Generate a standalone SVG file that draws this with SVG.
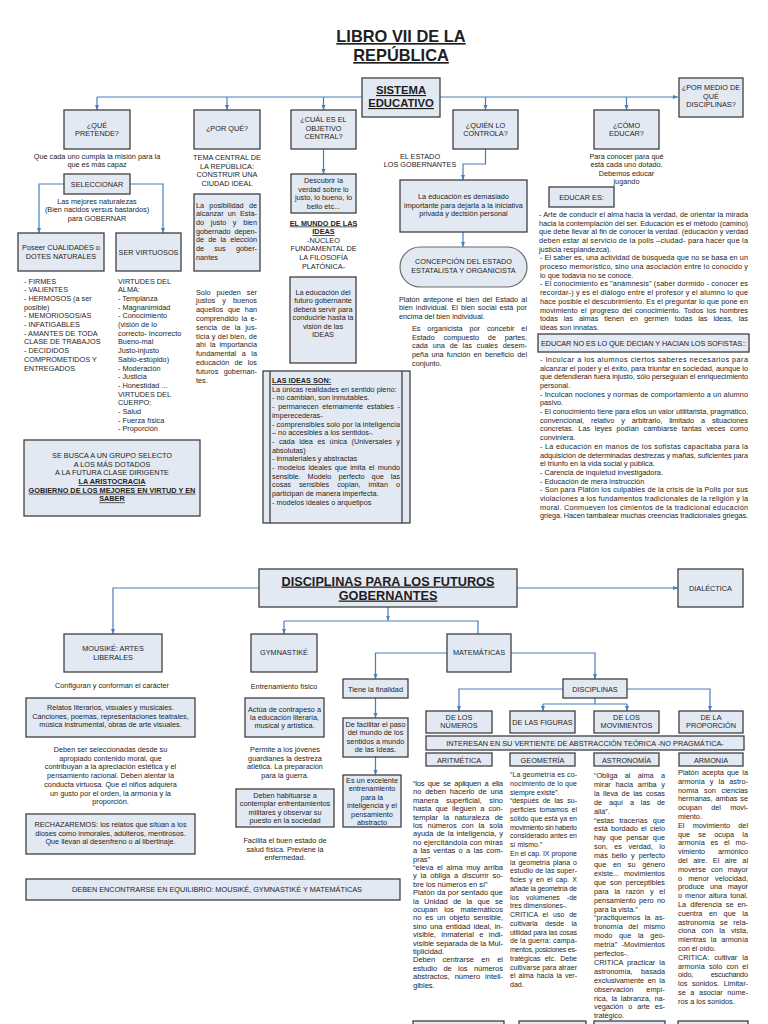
<svg xmlns="http://www.w3.org/2000/svg" width="768" height="1024" viewBox="0 0 768 1024">
<style>
.t{font-family:"Liberation Sans",Arial,Helvetica,sans-serif;font-size:7.3px;fill:#1e1e1e}
.m{text-anchor:middle}
.b{font-weight:bold}
.u{text-decoration:underline}
.bx{fill:#e3e9f3;stroke:#3f3f3f;stroke-width:1.3}
.cn{fill:none;stroke:#4a7ebb;stroke-width:1.2}
.s7{font-size:7px}
.s75{font-size:7.5px}
</style>
<defs>
<marker id="ah" viewBox="0 0 10 10" refX="10" refY="5" markerWidth="5" markerHeight="5" orient="auto" markerUnits="userSpaceOnUse"><path d="M0,1 L10,5 L0,9 z" fill="#4a7ebb"/></marker>
</defs>
<rect width="768" height="1024" fill="#ffffff"/>

<g id="connectors">
<path class="cn" d="M97,97 H678" marker-end="url(#ah)"/>
<path class="cn" d="M97,97 V110" marker-end="url(#ah)"/>
<path class="cn" d="M227,97 V110" marker-end="url(#ah)"/>
<path class="cn" d="M323.5,97 V110" marker-end="url(#ah)"/>
<path class="cn" d="M485.5,97 V110" marker-end="url(#ah)"/>
<path class="cn" d="M626.5,97 V110" marker-end="url(#ah)"/>
<path class="cn" d="M64,184 H39 V233" marker-end="url(#ah)"/>
<path class="cn" d="M130,184 H163 V233" marker-end="url(#ah)"/>
<path class="cn" d="M323.5,149 V174" marker-end="url(#ah)"/>
<path class="cn" d="M485.5,149 V164 H463 V180" marker-end="url(#ah)"/>
<path class="cn" d="M463,232 V247" marker-end="url(#ah)"/>
<path class="cn" d="M517,588 H678" marker-end="url(#ah)"/>
<path class="cn" d="M259,588 H113 V634" marker-end="url(#ah)"/>
<path class="cn" d="M388,607 V620.5" marker-end="url(#ah)"/>
<path class="cn" d="M284,621 H478 V634"/>
<path class="cn" d="M284,621 V634" marker-end="url(#ah)"/>
<path class="cn" d="M447,653 H375.5 V679" marker-end="url(#ah)"/>
<path class="cn" d="M375.5,698 V718" marker-end="url(#ah)"/>
<path class="cn" d="M375.5,757 V775" marker-end="url(#ah)"/>
<path class="cn" d="M511,653 H595 V679" marker-end="url(#ah)"/>
<path class="cn" d="M563,689 H459 V711" marker-end="url(#ah)"/>
<path class="cn" d="M627,689 H710 V711" marker-end="url(#ah)"/>
<path class="cn" d="M595,698 V704 M543,704 H627"/>
<path class="cn" d="M543,704 V711" marker-end="url(#ah)"/>
<path class="cn" d="M627,704 V711" marker-end="url(#ah)"/>
</g>

<g id="title">
<text class="t b u m" style="font-size:16.4px" x="401" y="42">LIBRO VII DE LA</text>
<text class="t b u m" style="font-size:16.4px" x="401" y="61">REPÚBLICA</text>
</g>

<g id="n-sistema">
<rect class="bx" x="362" y="78" width="78" height="39"/>
<text class="t b u m" style="font-size:11.3px" x="401" y="94">SISTEMA</text>
<text class="t b u m" style="font-size:11.3px" x="401" y="107">EDUCATIVO</text>
</g>

<g id="n-que-pretende">
<rect class="bx" x="64" y="110" width="66" height="39"/>
<text class="t m" x="97" y="127.5">¿QUÉ</text>
<text class="t m" x="97" y="136">PRETENDE?</text>
</g>
<g id="n-por-que">
<rect class="bx" x="194" y="110" width="66" height="39"/>
<text class="t m" x="227" y="131">¿POR QUÉ?</text>
</g>
<g id="n-cual-objetivo">
<rect class="bx" x="291" y="110" width="65" height="39"/>
<text class="t m" x="323.5" y="122">¿CUÁL ES EL</text>
<text class="t m" x="323.5" y="130.5">OBJETIVO</text>
<text class="t m" x="323.5" y="139">CENTRAL?</text>
</g>
<g id="n-quien-controla">
<rect class="bx" x="453" y="110" width="65" height="39"/>
<text class="t m" x="485.5" y="127.5">¿QUIÉN LO</text>
<text class="t m" x="485.5" y="136">CONTROLA?</text>
</g>
<g id="n-como-educar">
<rect class="bx" x="594" y="110" width="65" height="39"/>
<text class="t m" x="626.5" y="127.5">¿CÓMO</text>
<text class="t m" x="626.5" y="136">EDUCAR?</text>
</g>
<g id="n-por-medio">
<rect class="bx" x="679" y="78" width="64" height="39"/>
<text class="t m" x="711" y="90">¿POR MEDIO DE</text>
<text class="t m" x="711" y="98.5">QUÉ</text>
<text class="t m" x="711" y="107">DISCIPLINAS?</text>
</g>

<g id="txt-mision">
<text class="t m" x="97" y="158.5">Que cada uno cumpla la misión para la</text>
<text class="t m" x="97" y="167">que es más capaz</text>
</g>
<g id="n-seleccionar">
<rect class="bx" x="64" y="174" width="66" height="20"/>
<text class="t m" x="97" y="187">SELECCIONAR</text>
</g>
<g id="txt-naturalezas">
<text class="t m" x="97" y="203.5">Las mejores naturalezas</text>
<text class="t m" x="97" y="212">(Bien nacidos versus bastardos)</text>
<text class="t m" x="97" y="220.5">para GOBERNAR</text>
</g>
<g id="n-cualidades">
<rect class="bx" x="18" y="233" width="86" height="38"/>
<text class="t m" x="61" y="250">Poseer CUALIDADES o</text>
<text class="t m" x="61" y="259">DOTES NATURALES</text>
</g>
<g id="n-virtuosos">
<rect class="bx" x="116" y="233" width="65" height="38"/>
<text class="t m" x="148.5" y="254.5">SER VIRTUOSOS</text>
</g>
<g id="txt-cualidades">
<text class="t" x="24" y="283.5">- FIRMES</text>
<text class="t" x="24" y="292.2">- VALIENTES</text>
<text class="t" x="24" y="300.9">- HERMOSOS (a ser</text>
<text class="t" x="24" y="309.6">posible)</text>
<text class="t" x="24" y="318.3">- MEMORIOSOS/AS</text>
<text class="t" x="24" y="327">- INFATIGABLES</text>
<text class="t" x="24" y="335.7">- AMANTES DE TODA</text>
<text class="t" x="24" y="344.4">CLASE DE TRABAJOS</text>
<text class="t" x="24" y="353.1">- DECIDIDOS</text>
<text class="t" x="24" y="361.8">COMPROMETIDOS Y</text>
<text class="t" x="24" y="370.5">ENTREGADOS</text>
</g>
<g id="txt-virtudes">
<text class="t" x="118" y="283.5">VIRTUDES DEL</text>
<text class="t" x="118" y="292.2">ALMA:</text>
<text class="t" x="118" y="300.9">- Templanza</text>
<text class="t" x="118" y="309.6">- Magnanimidad</text>
<text class="t" x="118" y="318.3">- Conocimiento</text>
<text class="t" x="118" y="327">(visión de lo</text>
<text class="t" x="118" y="335.7">correcto- Incorrecto</text>
<text class="t" x="118" y="344.4">Bueno-mal</text>
<text class="t" x="118" y="353.1">Justo-injusto</text>
<text class="t" x="118" y="361.8">Sabio-estúpido)</text>
<text class="t" x="118" y="370.5">- Moderación</text>
<text class="t" x="118" y="379.2">- Justicia</text>
<text class="t" x="118" y="387.9">- Honestidad ...</text>
<text class="t" x="118" y="396.6">VIRTUDES DEL</text>
<text class="t" x="118" y="405.3">CUERPO:</text>
<text class="t" x="118" y="414">- Salud</text>
<text class="t" x="118" y="422.7">- Fuerza física</text>
<text class="t" x="118" y="431.4">- Proporción</text>
</g>
<g id="n-se-busca">
<rect class="bx" x="24" y="440" width="176" height="76"/>
<text class="t m" x="112" y="458">SE BUSCA A UN GRUPO SELECTO</text>
<text class="t m" x="112" y="466.7">A LOS MÁS DOTADOS</text>
<text class="t m" x="112" y="475.3">A LA FUTURA CLASE DIRIGENTE</text>
<text class="t m b u" x="112" y="484">LA ARISTOCRACIA</text>
<text class="t m b u" x="112" y="492.7">GOBIERNO DE LOS MEJORES EN VIRTUD Y EN</text>
<text class="t m b u" x="112" y="501.4">SABER</text>
</g>

<g id="txt-tema-central">
<text class="t m" x="227" y="160">TEMA CENTRAL DE</text>
<text class="t m" x="227" y="168.5">LA REPÚBLICA:</text>
<text class="t m" x="227" y="177">CONSTRUIR UNA</text>
<text class="t m" x="227" y="185.5">CIUDAD IDEAL</text>
</g>
<g id="n-posibilidad">
<rect class="bx" x="194" y="194" width="66" height="77"/>
<text class="t" x="196" y="207.5" textLength="61" style="word-spacing:3.3px">La posibilidad de</text>
<text class="t" x="196" y="216.2" textLength="61" style="word-spacing:2.1px">alcanzar un Esta-</text>
<text class="t" x="196" y="224.9" textLength="61" style="word-spacing:4.6px">do justo y bien</text>
<text class="t" x="196" y="233.6" textLength="61" style="word-spacing:1.8px">gobernado depen-</text>
<text class="t" x="196" y="242.3" textLength="61" style="word-spacing:2.1px">de de la elección</text>
<text class="t" x="196" y="251" textLength="61" style="word-spacing:8.2px">de sus gober-</text>
<text class="t" x="196" y="259.7">nantes</text>
</g>
<g id="txt-solo-pueden">
<text class="t" x="196" y="294.5" textLength="61" style="word-spacing:3.9px">Solo pueden ser</text>
<text class="t" x="196" y="303.3" textLength="61" style="word-spacing:5.1px">justos y buenos</text>
<text class="t" x="196" y="312.1" textLength="61" style="word-spacing:2.7px">aquellos que han</text>
<text class="t" x="196" y="320.9" textLength="61" style="word-spacing:1.3px">comprendido la e-</text>
<text class="t" x="196" y="329.7" textLength="61" style="word-spacing:2.8px">sencia de la jus-</text>
<text class="t" x="196" y="338.5" textLength="61">ticia y del bien, de</text>
<text class="t" x="196" y="347.3" textLength="61" style="word-spacing:1.9px">ahí la importancia</text>
<text class="t" x="196" y="356.1" textLength="61" style="word-spacing:3.5px">fundamental a la</text>
<text class="t" x="196" y="364.9" textLength="61" style="word-spacing:3.1px">educación de los</text>
<text class="t" x="196" y="373.7" textLength="61" style="word-spacing:3.4px">futuros gobernan-</text>
<text class="t" x="196" y="382.5">tes.</text>
</g>

<g id="n-descubrir">
<rect class="bx" x="291" y="174" width="65" height="39"/>
<text class="t m" x="323.5" y="183">Descubrir la</text>
<text class="t m" x="323.5" y="191.5">verdad sobre lo</text>
<text class="t m" x="323.5" y="200">justo, lo bueno, lo</text>
<text class="t m" x="323.5" y="208.5">bello etc...</text>
</g>
<g id="txt-mundo-ideas">
<text class="t m b u" x="323.5" y="225.5">EL MUNDO DE LAS</text>
<text class="t m b u" x="323.5" y="234">IDEAS</text>
<text class="t m" x="323.5" y="242.7">-NÚCLEO</text>
<text class="t m" x="323.5" y="251.4">FUNDAMENTAL DE</text>
<text class="t m" x="323.5" y="260">LA FILOSOFÍA</text>
<text class="t m" x="323.5" y="268.8">PLATÓNICA-</text>
</g>
<g id="n-educacion-futuro">
<rect class="bx" x="290" y="277" width="66" height="86"/>
<text class="t m" x="323" y="294.5">La educación del</text>
<text class="t m" x="323" y="303">futuro gobernante</text>
<text class="t m" x="323" y="311.5">deberá servir para</text>
<text class="t m" x="323" y="320">conducirle hasta la</text>
<text class="t m" x="323" y="328.5">visión de las</text>
<text class="t m" x="323" y="337">IDEAS</text>
</g>
<g id="n-ideas-son">
<rect class="bx" x="263" y="371" width="147" height="152"/>
<path d="M270,371 V523 M402,371 V523" fill="none" stroke="#3f3f3f" stroke-width="1.3"/>
<text class="t b u" x="272" y="383">LAS IDEAS SON:</text>
<text class="t" x="272" y="391.7">La únicas realidades en sentido pleno:</text>
<text class="t" x="272" y="400.4">- no cambian, son inmutables.</text>
<text class="t" x="272" y="409.1" textLength="128" style="word-spacing:1.8px">- permanecen eternamente estables -</text>
<text class="t" x="272" y="417.8">imperecederas-</text>
<text class="t" x="272" y="426.5" textLength="128">- comprensibles solo por la inteligencia</text>
<text class="t" x="272" y="435.2">– no accesibles a los sentidos-.</text>
<text class="t" x="272" y="443.9" textLength="128" style="word-spacing:2.5px">- cada idea es única (Universales y</text>
<text class="t" x="272" y="452.6">absolutas)</text>
<text class="t" x="272" y="461.3">- inmateriales y abstractas</text>
<text class="t" x="272" y="470" textLength="128" style="word-spacing:1.2px">- modelos ideales que imita el mundo</text>
<text class="t" x="272" y="478.7" textLength="128" style="word-spacing:5px">sensible. Modelo perfecto que las</text>
<text class="t" x="272" y="487.4" textLength="128" style="word-spacing:6px">cosas sensibles copian, imitan o</text>
<text class="t" x="272" y="496.1">participan de manera imperfecta.</text>
<text class="t" x="272" y="504.8">- modelos ideales o arquetipos</text>
</g>

<g id="txt-estado">
<text class="t m" x="420" y="158.5">EL ESTADO</text>
<text class="t m" x="420" y="167">LOS GOBERNANTES</text>
</g>
<g id="n-demasiado">
<rect class="bx" x="400" y="180" width="127" height="52"/>
<text class="t m" x="463.5" y="199">La educación es demasiado</text>
<text class="t m" x="463.5" y="207.5">importante para dejarla a la iniciativa</text>
<text class="t m" x="463.5" y="216">privada y decisión personal</text>
</g>
<g id="n-concepcion">
<rect x="400" y="247" width="127" height="40" rx="20" ry="20" fill="#e3e9f3" stroke="#6a6a6a" stroke-width="1.2"/>
<text class="t m" x="463.5" y="264">CONCEPCIÓN DEL ESTADO</text>
<text class="t m" x="463.5" y="273">ESTATALISTA Y ORGANICISTA</text>
</g>
<g id="txt-platon-antepone">
<text class="t" x="399" y="301.5" textLength="128" style="word-spacing:1.2px">Platón antepone el bien del Estado al</text>
<text class="t" x="399" y="310" textLength="128" style="word-spacing:1px">bien individual. El bien social está por</text>
<text class="t" x="399" y="318.5">encima del bien individual.</text>
<text class="t" x="412" y="331" textLength="115" style="word-spacing:4.8px">Es organicista por concebir el</text>
<text class="t" x="412" y="339.7" textLength="115" style="word-spacing:6.7px">Estado compuesto de partes,</text>
<text class="t" x="412" y="348.4" textLength="115" style="word-spacing:2.8px">cada una de las cuales desem-</text>
<text class="t" x="412" y="357.1" textLength="115" style="word-spacing:1.2px">peña una función en beneficio del</text>
<text class="t" x="412" y="365.8">conjunto.</text>
</g>

<g id="txt-para-conocer">
<text class="t m" x="626.5" y="158.5">Para conocer para qué</text>
<text class="t m" x="626.5" y="167">está cada uno dotado.</text>
<text class="t m" x="626.5" y="175.5">Debemos educar</text>
<text class="t m" x="626.5" y="184">jugando</text>
</g>
<g id="n-educar-es">
<rect class="bx" x="549" y="187" width="65" height="20"/>
<text class="t m" x="581.5" y="200">EDUCAR ES:</text>
</g>
<g id="txt-educar-es">
<text class="t" x="539" y="217" textLength="209">- Arte de conducir el alma hacia la verdad, de orientar la mirada</text>
<text class="t" x="539" y="225.7" textLength="209">hacia la contemplación del ser. Educación es el método (camino)</text>
<text class="t" x="539" y="234.4" textLength="209">que debe llevar al fin de conocer la verdad. (educación y verdad</text>
<text class="t" x="539" y="243" textLength="209">deben estar al servicio de la polis –ciudad- para hacer que la</text>
<text class="t" x="539" y="251.7">justicia resplandezca).</text>
<text class="t" x="540" y="260.4" textLength="208">- El saber es, una actividad de búsqueda que no se basa en un</text>
<text class="t" x="540" y="269.1" textLength="208">proceso memorístico, sino una asociación entre lo conocido y</text>
<text class="t" x="540" y="277.8">lo que todavía no se conoce.</text>
<text class="t" x="540" y="286.4" textLength="208">- El conocimiento es "anámnesis" (saber dormido - conocer es</text>
<text class="t" x="540" y="295.1" textLength="208">recordar-) y es el diálogo entre el profesor y el alumno lo que</text>
<text class="t" x="540" y="303.8" textLength="208">hace posible el descubrimiento. Es el preguntar lo que pone en</text>
<text class="t" x="540" y="312.5" textLength="208" style="word-spacing:1.3px">movimiento el progreso del conocimiento. Todos los hombres</text>
<text class="t" x="540" y="321.2" textLength="208" style="word-spacing:3.9px">todas las almas tienen en germen todas las ideas, las</text>
<text class="t" x="540" y="329.8">ideas son innatas.</text>
</g>
<g id="n-sofistas">
<rect class="bx" x="538" y="334" width="211" height="18" stroke-width="1.6"/>
<text class="t" x="541" y="346" textLength="205">EDUCAR NO ES LO QUE DECIAN Y HACIAN LOS SOFISTAS::</text>
</g>
<g id="txt-sofistas">
<text class="t" x="540" y="362" textLength="208">- Inculcar a los alumnos ciertos saberes necesarios para</text>
<text class="t" x="540" y="370.7" textLength="208">alcanzar el poder y el éxito, para triunfar en sociedad, aunque lo</text>
<text class="t" x="540" y="379.4" textLength="208">que defendieran fuera injusto, sólo perseguían el enriquecimiento</text>
<text class="t" x="540" y="388">personal.</text>
<text class="t" x="540" y="396.7" textLength="208">- Inculcan nociones y normas de comportamiento a un alumno</text>
<text class="t" x="540" y="405.4">pasivo.</text>
<text class="t" x="540" y="414.1" textLength="208">- El conocimiento tiene para ellos un valor utilitarista, pragmático,</text>
<text class="t" x="540" y="422.8" textLength="208" style="word-spacing:5px">convencional, relativo y arbitrario, limitado a situaciones</text>
<text class="t" x="540" y="431.4" textLength="208" style="word-spacing:2.6px">concretas. Las leyes podían cambiarse tantas veces como</text>
<text class="t" x="540" y="440.1">conviniera.</text>
<text class="t" x="540" y="448.8" textLength="208">- La educación en manos de los sofistas capacitaba para la</text>
<text class="t" x="540" y="457.5" textLength="208">adquisición de determinadas destrezas y mañas, suficientes para</text>
<text class="t" x="540" y="466.2">el triunfo en la vida social y pública.</text>
<text class="t" x="540" y="474.8">- Carencia de inquietud investigadora.</text>
<text class="t" x="540" y="483.5">- Educación de mera instrucción</text>
<text class="t" x="540" y="492.2" textLength="208">- Son para Platón los culpables de la crisis de la Polis por sus</text>
<text class="t" x="540" y="500.9" textLength="208">violaciones a los fundamentos tradicionales de la religión y la</text>
<text class="t" x="540" y="509.6" textLength="208">moral. Conmueven los cimientos de la tradicional educación</text>
<text class="t" x="540" y="518.2" textLength="208">griega. Hacen tambalear muchas creencias tradicionales griegas.</text>
</g>

<g id="n-disciplinas-futuros">
<rect class="bx" x="259" y="569" width="258" height="38"/>
<text class="t b u m" style="font-size:12.7px" x="388" y="585.5">DISCIPLINAS PARA LOS FUTUROS</text>
<text class="t b u m" style="font-size:12.7px" x="388" y="599.5">GOBERNANTES</text>
</g>
<g id="n-dialectica">
<rect class="bx" x="678" y="569" width="65" height="38"/>
<text class="t m" x="710.5" y="591">DIALÉCTICA</text>
</g>

<g id="n-mousike">
<rect class="bx" x="64" y="634" width="98" height="38"/>
<text class="t m" x="113" y="651">MOUSIKÉ: ARTES</text>
<text class="t m" x="113" y="660">LIBERALES</text>
</g>
<g id="txt-configuran">
<text class="t m" x="112" y="688">Configuran y conforman el carácter</text>
</g>
<g id="n-relatos">
<rect class="bx" x="26" y="698" width="169" height="39"/>
<text class="t m" x="110.5" y="710">Relatos literarios, visuales y musicales.</text>
<text class="t m" x="110.5" y="718.5">Canciones, poemas, representaciones teatrales,</text>
<text class="t m" x="110.5" y="727">música instrumental, obras de arte visuales.</text>
</g>
<g id="txt-deben-ser">
<text class="t m" x="110.5" y="752">Deben ser seleccionadas desde su</text>
<text class="t m" x="110.5" y="760.7">apropiado contenido moral, que</text>
<text class="t m" x="110.5" y="769.4">contribuyan a la apreciación estética y el</text>
<text class="t m" x="110.5" y="778.1">pensamiento racional. Deben alentar la</text>
<text class="t m" x="110.5" y="786.8">conducta virtuosa. Que el niños adquiera</text>
<text class="t m" x="110.5" y="795.5">un gusto por el orden, la armonía y la</text>
<text class="t m" x="110.5" y="804.2">proporción.</text>
</g>
<g id="n-rechazaremos">
<rect class="bx" x="26" y="814" width="169" height="40"/>
<text class="t m" x="110.5" y="827">RECHAZAREMOS: los relatos que sitúan a los</text>
<text class="t m" x="110.5" y="835.5">dioses como inmorales, adúlteros, mentirosos.</text>
<text class="t m" x="110.5" y="844">Que llevan al desenfreno o al libertinaje.</text>
</g>
<g id="n-equilibrio">
<rect class="bx" x="26" y="879" width="374" height="21"/>
<text class="t m" x="217" y="892" textLength="290" lengthAdjust="spacingAndGlyphs">DEBEN ENCONTRARSE EN EQUILIBRIO: MOUSIKÉ, GYMNASTIKÉ Y MATEMÁTICAS</text>
</g>

<g id="n-gymnastike">
<rect class="bx" x="251" y="634" width="66" height="38"/>
<text class="t m" x="284" y="655">GYMNASTIKÉ</text>
</g>
<g id="txt-entrenamiento">
<text class="t m" x="284" y="689">Entrenamiento físico</text>
</g>
<g id="n-actua">
<rect class="bx" x="245" y="698" width="79" height="39"/>
<text class="t m" x="284.5" y="712">Actúa de contrapeso a</text>
<text class="t m" x="284.5" y="720">la educación literaria,</text>
<text class="t m" x="284.5" y="728">musical y artística.</text>
</g>
<g id="txt-permite">
<text class="t m" x="285" y="752">Permite a los jóvenes</text>
<text class="t m" x="285" y="760.7">guardianes la destreza</text>
<text class="t m" x="285" y="769.4">atlética. La preparación</text>
<text class="t m" x="285" y="778">para la guerra.</text>
</g>
<g id="n-habituarse">
<rect class="bx" x="236" y="789" width="98" height="38"/>
<text class="t m" x="285" y="797.5">Deben habituarse a</text>
<text class="t m" x="285" y="806">contemplar enfrentamientos</text>
<text class="t m" x="285" y="814.5">militares y observar su</text>
<text class="t m" x="285" y="823">puesto en la sociedad</text>
</g>
<g id="txt-facilita">
<text class="t m" x="285" y="843">Facilita el buen estado de</text>
<text class="t m" x="285" y="851.7">salud física. Previene la</text>
<text class="t m" x="285" y="860.4">enfermedad.</text>
</g>

<g id="n-matematicas">
<rect class="bx" x="447" y="634" width="64" height="38"/>
<text class="t m" x="479" y="655">MATEMÁTICAS</text>
</g>
<g id="n-finalidad">
<rect class="bx" x="343" y="679" width="65" height="19"/>
<text class="t m" x="375.5" y="692">Tiene la finalidad</text>
</g>
<g id="n-facilitar">
<rect class="bx" x="343" y="718" width="65" height="39"/>
<text class="t m" x="375.5" y="726.5">De facilitar el paso</text>
<text class="t m" x="375.5" y="735">del mundo de los</text>
<text class="t m" x="375.5" y="743.5">sentidos a mundo</text>
<text class="t m" x="375.5" y="752">de las Ideas.</text>
</g>
<g id="n-excelente">
<rect class="bx" x="343" y="775" width="58" height="52"/>
<text class="t m" x="372" y="782.5">Es un excelente</text>
<text class="t m" x="372" y="791">entrenamiento</text>
<text class="t m" x="372" y="799.5">para la</text>
<text class="t m" x="372" y="808">inteligencia y el</text>
<text class="t m" x="372" y="816.5">pensamiento</text>
<text class="t m" x="372" y="825">abstracto</text>
</g>
<g id="n-disciplinas">
<rect class="bx" x="563" y="679" width="64" height="19"/>
<text class="t m" x="595" y="692">DISCIPLINAS</text>
</g>
<g id="n-numeros">
<rect class="bx" x="426" y="711" width="66" height="22"/>
<text class="t m" x="459" y="719.5">DE LOS</text>
<text class="t m" x="459" y="728">NÚMEROS</text>
</g>
<g id="n-figuras">
<rect class="bx" x="510" y="711" width="65" height="22"/>
<text class="t m" x="542.5" y="725">DE LAS FIGURAS</text>
</g>
<g id="n-movimientos">
<rect class="bx" x="594" y="711" width="65" height="22"/>
<text class="t m" x="626.5" y="719.5">DE LOS</text>
<text class="t m" x="626.5" y="728">MOVIMIENTOS</text>
</g>
<g id="n-proporcion">
<rect class="bx" x="679" y="711" width="64" height="22"/>
<text class="t m" x="711" y="719.5">DE LA</text>
<text class="t m" x="711" y="728">PROPORCIÓN</text>
</g>
<g id="n-interesan">
<rect class="bx" x="426" y="736" width="318" height="14"/>
<text class="t m" x="585" y="746">INTERESAN EN SU VERTIENTE DE ABSTRACCIÓN TEÓRICA -NO PRAGMÁTICA-</text>
</g>
<g id="n-aritmetica">
<rect class="bx" x="426" y="753" width="66" height="13"/>
<text class="t m" x="459" y="762.5">ARITMÉTICA</text>
</g>
<g id="n-geometria">
<rect class="bx" x="510" y="753" width="65" height="13"/>
<text class="t m" x="542.5" y="762.5">GEOMETRÍA</text>
</g>
<g id="n-astronomia">
<rect class="bx" x="594" y="753" width="65" height="13"/>
<text class="t m" x="626.5" y="762.5">ASTRONOMÍA</text>
</g>
<g id="n-armonia">
<rect class="bx" x="679" y="753" width="64" height="13"/>
<text class="t m" x="711" y="762.5">ARMONIA</text>
</g>

<g id="txt-aritmetica">
<text class="t s75" x="413" y="786" textLength="90" style="word-spacing:1.6px">“los que se apliquen a ella</text>
<text class="t s75" x="413" y="794.4" textLength="90" style="word-spacing:1.7px">no deben hacerlo de una</text>
<text class="t s75" x="413" y="802.8" textLength="90" style="word-spacing:5.4px">manera superficial, sino</text>
<text class="t s75" x="413" y="811.2" textLength="90" style="word-spacing:2px">hasta que lleguen a con-</text>
<text class="t s75" x="413" y="819.6" textLength="90" style="word-spacing:3.2px">templar la naturaleza de</text>
<text class="t s75" x="413" y="828" textLength="90" style="word-spacing:2.8px">los números con la sola</text>
<text class="t s75" x="413" y="836.4" textLength="90" style="word-spacing:0.9px">ayuda de la inteligencia, y</text>
<text class="t s75" x="413" y="844.8" textLength="90">no ejercitándola con miras</text>
<text class="t s75" x="413" y="853.2" textLength="90" style="word-spacing:1.2px">a las ventas o a las com-</text>
<text class="t s75" x="413" y="861.6">pras”</text>
<text class="t s75" x="413" y="870" textLength="90" style="word-spacing:1.5px">“eleva el alma muy arriba</text>
<text class="t s75" x="413" y="878.4" textLength="90" style="word-spacing:1.7px">y la obliga a discurrir so-</text>
<text class="t s75" x="413" y="886.8">bre los números en sí”</text>
<text class="t s75" x="413" y="895.2" textLength="90">Platón da por sentado que</text>
<text class="t s75" x="413" y="903.6" textLength="90" style="word-spacing:3.1px">la Unidad de la que se</text>
<text class="t s75" x="413" y="912" textLength="90" style="word-spacing:4.6px">ocupan los matemáticos</text>
<text class="t s75" x="413" y="920.4" textLength="90" style="word-spacing:1.9px">no es un objeto sensible,</text>
<text class="t s75" x="413" y="928.8" textLength="90" style="word-spacing:1.1px">sino una entidad ideal, in-</text>
<text class="t s75" x="413" y="937.2" textLength="90" style="word-spacing:3.3px">visible, inmaterial e indi-</text>
<text class="t s75" x="413" y="945.6" textLength="90">visible separada de la Mul-</text>
<text class="t s75" x="413" y="954">tiplicidad.</text>
<text class="t s75" x="413" y="962.4" textLength="90" style="word-spacing:5.4px">Deben centrarse en el</text>
<text class="t s75" x="413" y="970.8" textLength="90" style="word-spacing:4.2px">estudio de los números</text>
<text class="t s75" x="413" y="979.2" textLength="90" style="word-spacing:2.9px">abstractos, número inteli-</text>
<text class="t s75" x="413" y="987.6">gibles.</text>
</g>
<g id="txt-geometria">
<text class="t s7" x="510" y="777" textLength="67">“La geometría es co-</text>
<text class="t s7" x="510" y="785.75" textLength="67">nocimiento de lo que</text>
<text class="t s7" x="510" y="794.5">siempre existe”.</text>
<text class="t s7" x="510" y="803.25" textLength="67" style="word-spacing:2px">“después de las su-</text>
<text class="t s7" x="510" y="812" textLength="67" style="word-spacing:1.4px">perficies tomamos el</text>
<text class="t s7" x="510" y="820.75" textLength="67">sólido que está ya en</text>
<text class="t s7" x="510" y="829.5" textLength="67">movimiento sin haberlo</text>
<text class="t s7" x="510" y="838.25" textLength="67">considerado antes en</text>
<text class="t s7" x="510" y="847">sí mismo.”</text>
<text class="t s7" x="510" y="855.75" textLength="67">En el cap. IX propone</text>
<text class="t s7" x="510" y="864.5" textLength="67" style="word-spacing:1.1px">la geometría plana o</text>
<text class="t s7" x="510" y="873.25" textLength="67">estudio de las super-</text>
<text class="t s7" x="510" y="882" textLength="67" style="word-spacing:1.3px">ficies y en el cap. X</text>
<text class="t s7" x="510" y="890.75" textLength="67">añade la geometría de</text>
<text class="t s7" x="510" y="899.5" textLength="67" style="word-spacing:5.1px">los volúmenes -de</text>
<text class="t s7" x="510" y="908.25">tres dimensiones-.</text>
<text class="t s7" x="510" y="917" textLength="67" style="word-spacing:2.9px">CRITICA el uso de</text>
<text class="t s7" x="510" y="925.75" textLength="67" style="word-spacing:5.5px">cultivarla desde la</text>
<text class="t s7" x="510" y="934.5" textLength="67">utilidad para las cosas</text>
<text class="t s7" x="510" y="943.25" textLength="67">de la guerra: campa-</text>
<text class="t s7" x="510" y="952" textLength="67">mentos, posiciones es-</text>
<text class="t s7" x="510" y="960.75" textLength="67" style="word-spacing:2.4px">tratégicas etc. Debe</text>
<text class="t s7" x="510" y="969.5" textLength="67">cultivarse para atraer</text>
<text class="t s7" x="510" y="978.25" textLength="67" style="word-spacing:1.1px">el alma hacia la ver-</text>
<text class="t s7" x="510" y="987">dad.</text>
</g>
<g id="txt-astronomia">
<text class="t" x="594" y="778" textLength="71" style="word-spacing:5.3px">“Obliga al alma a</text>
<text class="t" x="594" y="786.9" textLength="71" style="word-spacing:2.8px">mirar hacia arriba y</text>
<text class="t" x="594" y="795.8" textLength="71" style="word-spacing:1.4px">la lleva de las cosas</text>
<text class="t" x="594" y="804.7" textLength="71" style="word-spacing:4.8px">de aquí a las de</text>
<text class="t" x="594" y="813.6">allá”.</text>
<text class="t" x="594" y="822.5" textLength="71" style="word-spacing:3.2px">“estas tracerías que</text>
<text class="t" x="594" y="831.4" textLength="71" style="word-spacing:1.2px">está bordado el cielo</text>
<text class="t" x="594" y="840.3" textLength="71" style="word-spacing:2.2px">hay que pensar que</text>
<text class="t" x="594" y="849.2" textLength="71" style="word-spacing:4.5px">son, es verdad, lo</text>
<text class="t" x="594" y="858.1" textLength="71" style="word-spacing:1.9px">más bello y perfecto</text>
<text class="t" x="594" y="867" textLength="71" style="word-spacing:4.7px">que en su género</text>
<text class="t" x="594" y="875.9" textLength="71" style="word-spacing:2.8px">existe... movimientos</text>
<text class="t" x="594" y="884.8" textLength="71" style="word-spacing:1.8px">que son perceptibles</text>
<text class="t" x="594" y="893.7" textLength="71" style="word-spacing:3.7px">para la razón y el</text>
<text class="t" x="594" y="902.6" textLength="71" style="word-spacing:1.2px">pensamiento pero no</text>
<text class="t" x="594" y="911.5">para la vista.”</text>
<text class="t" x="594" y="920.4" textLength="71" style="word-spacing:2.4px">“practiquemos la as-</text>
<text class="t" x="594" y="929.3" textLength="71" style="word-spacing:3.5px">tronomía del mismo</text>
<text class="t" x="594" y="938.2" textLength="71" style="word-spacing:4.7px">modo que la geo-</text>
<text class="t" x="594" y="947.1" textLength="71" style="word-spacing:2.5px">metría” -Movimientos</text>
<text class="t" x="594" y="956">perfectos-.</text>
<text class="t" x="594" y="964.9" textLength="71" style="word-spacing:2px">CRITICA practicar la</text>
<text class="t" x="594" y="973.8" textLength="71" style="word-spacing:6.5px">astronomía, basada</text>
<text class="t" x="594" y="982.7" textLength="71" style="word-spacing:1.6px">exclusivamente en la</text>
<text class="t" x="594" y="991.6" textLength="71" style="word-spacing:11px">observación empí-</text>
<text class="t" x="594" y="1000.5" textLength="71" style="word-spacing:1.6px">rica, la labranza, na-</text>
<text class="t" x="594" y="1009.4" textLength="71" style="word-spacing:3px">vegación o arte es-</text>
<text class="t" x="594" y="1018.3">tratégico.</text>
</g>
<g id="txt-armonia">
<text class="t" x="678" y="775" textLength="70" style="word-spacing:1.1px">Platón acepta que la</text>
<text class="t" x="678" y="783.8" textLength="70" style="word-spacing:3px">armonía y la astro-</text>
<text class="t" x="678" y="792.6" textLength="70" style="word-spacing:3.7px">nomía son ciencias</text>
<text class="t" x="678" y="801.4" textLength="70" style="word-spacing:0.9px">hermanas, ambas se</text>
<text class="t" x="678" y="810.2" textLength="70" style="word-spacing:7.2px">ocupan del movi-</text>
<text class="t" x="678" y="819">miento.</text>
<text class="t" x="678" y="827.8" textLength="70" style="word-spacing:6.2px">El movimiento del</text>
<text class="t" x="678" y="836.6" textLength="70" style="word-spacing:6.2px">que se ocupa la</text>
<text class="t" x="678" y="845.4" textLength="70" style="word-spacing:3.7px">armonía es el mo-</text>
<text class="t" x="678" y="854.2" textLength="70" style="word-spacing:10.8px">vimiento armónico</text>
<text class="t" x="678" y="863" textLength="70" style="word-spacing:3.4px">del aire. El aire al</text>
<text class="t" x="678" y="871.8" textLength="70" style="word-spacing:3px">moverse con mayor</text>
<text class="t" x="678" y="880.6" textLength="70" style="word-spacing:4.1px">o menor velocidad,</text>
<text class="t" x="678" y="889.4" textLength="70" style="word-spacing:3.5px">produce una mayor</text>
<text class="t" x="678" y="898.2" textLength="70" style="word-spacing:1px">o menor altura tonal.</text>
<text class="t" x="678" y="907" textLength="70" style="word-spacing:2px">La diferencia se en-</text>
<text class="t" x="678" y="915.8" textLength="70" style="word-spacing:4.5px">cuentra en que la</text>
<text class="t" x="678" y="924.6" textLength="70" style="word-spacing:3.5px">astronomía se rela-</text>
<text class="t" x="678" y="933.4" textLength="70" style="word-spacing:4px">ciona con la vista,</text>
<text class="t" x="678" y="942.2" textLength="70" style="word-spacing:2.7px">mientras la armonía</text>
<text class="t" x="678" y="951">con el oído.</text>
<text class="t" x="678" y="959.8" textLength="70" style="word-spacing:3px">CRITICA: cultivar la</text>
<text class="t" x="678" y="968.6" textLength="70" style="word-spacing:2.1px">armonía sólo con el</text>
<text class="t" x="678" y="977.4" textLength="70" style="word-spacing:16px">oído, escuchando</text>
<text class="t" x="678" y="986.2" textLength="70" style="word-spacing:2.5px">los sonidos. Limitar-</text>
<text class="t" x="678" y="995" textLength="70" style="word-spacing:2.6px">se a asociar núme-</text>
<text class="t" x="678" y="1003.8">ros a los sonidos.</text>
</g>

<g id="n-bottom-edge">
<rect class="bx" x="413" y="1021" width="91" height="10"/>
<rect class="bx" x="519" y="1021" width="67" height="10"/>
<rect class="bx" x="594" y="1021" width="71" height="10"/>
<rect class="bx" x="678" y="1021" width="70" height="10"/>
</g>
</svg>
